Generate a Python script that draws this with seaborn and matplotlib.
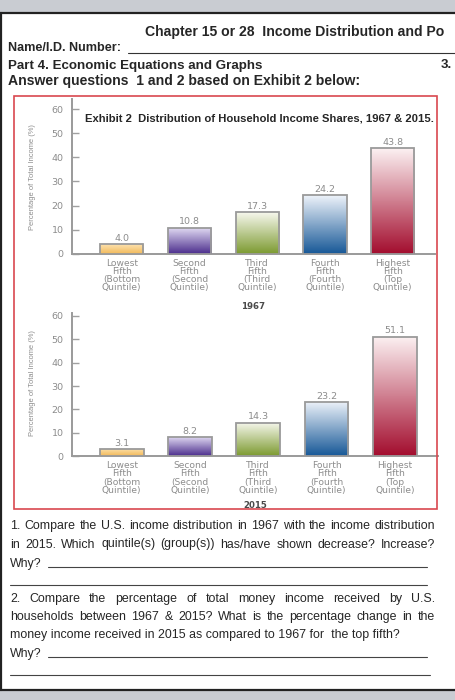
import numpy as np
import pandas as pd
import matplotlib
matplotlib.use("Agg")
from matplotlib import pyplot as plt
from matplotlib.colors import LinearSegmentedColormap
import seaborn as sns

# data ~~~~~~~~~~~~~~~~~~~~~~~~~~~~~~~~~~~~~~~~~~~~~~~~~~~~~~~~~~~~~~~~~~
quintiles = ["Lowest\nFifth\n(Bottom\nQuintile)",
             "Second\nFifth\n(Second\nQuintile)",
             "Third\nFifth\n(Third\nQuintile)",
             "Fourth\nFifth\n(Fourth\nQuintile)",
             "Highest\nFifth\n(Top\nQuintile)"]
share_1967 = [4.0, 10.8, 17.3, 24.2, 43.8]
share_2015 = [3.1, 8.2, 14.3, 23.2, 51.1]
y_ticks = [0, 10, 20, 30, 40, 50, 60]
# (top colour, bottom colour) of each bar gradient
bar_grad = [("#fde3b0", "#f2b95a"),
            ("#e4def5", "#4b2d8c"),
            ("#f7f8ee", "#7c9a30"),
            ("#eef3fa", "#175897"),
            ("#fcf1f2", "#a30d2e")]

W, H = 456, 700
SANS = ["Liberation Sans", "DejaVu Sans"]
GREY = "#8c8c8c"

sns.set_theme(style="white")
plt.rcParams["font.family"] = ["DejaVu Sans"]

fig = plt.figure(figsize=(W / 100, H / 100), dpi=100)
fig.patch.set_facecolor("white")


def fx(x):
    return x / W


def fy(y):
    return 1 - y / H


def hline(x0, x1, y, color="#555555", lw=0.8):
    fig.add_artist(plt.Line2D([fx(x0), fx(x1)], [fy(y), fy(y)], color=color, lw=lw))


# page frame ~~~~~~~~~~~~~~~~~~~~~~~~~~~~~~~~~~~~~~~~~~~~~~~~~~~~~~~~~~~~
fig.add_artist(plt.Rectangle((0, fy(12)), 1, 12 / H, color="#c9ccd2", lw=0))
fig.add_artist(plt.Rectangle((0, 0), 1, 10 / H, color="#c9ccd2", lw=0))
hline(0, W, 12.5, color="#222222", lw=1.6)
hline(0, W, 690, color="#222222", lw=1.6)
fig.add_artist(plt.Line2D([fx(1.5), fx(1.5)], [fy(12.5), fy(690)], color="#222222", lw=1.6))
fig.add_artist(plt.Rectangle((fx(14), fy(509)), fx(437) - fx(14), (509 - 96) / H,
                             fill=False, ec="#d9484f", lw=1.2))

# header text
fig.text(fx(145), fy(36), "Chapter 15 or 28  Income Distribution and Po",
         family=SANS, weight="bold", fontsize=10.1, va="baseline")
fig.text(fx(8), fy(51), "Name/I.D. Number:", family=SANS, weight="bold",
         fontsize=9.1, va="baseline")
hline(128, W, 53, color="#333333", lw=0.8)
fig.text(fx(8), fy(68.5), "Part 4. Economic Equations and Graphs", family=SANS,
         weight="bold", fontsize=9.6, va="baseline")
fig.text(fx(441), fy(68.5), "3.", family=SANS, weight="bold", fontsize=9.6, va="baseline")
fig.text(fx(8), fy(84.5), "Answer questions  1 and 2 based on Exhibit 2 below:",
         family=SANS, weight="bold", fontsize=10.1, va="baseline")


def gradient_bars(ax):
    for patch, (c_top, c_bot) in zip(ax.patches, bar_grad):
        x0, y0 = patch.get_x(), patch.get_y()
        w, h = patch.get_width(), patch.get_height()
        cmap = LinearSegmentedColormap.from_list("g", [c_bot, c_top])
        grad = np.linspace(0, 1, 128).reshape(-1, 1)
        im = ax.imshow(grad, cmap=cmap, origin="lower", aspect="auto",
                       extent=(x0, x0 + w, y0, y0 + h), zorder=patch.get_zorder() - 0.1)
        im.set_clip_path(patch)
        patch.set_facecolor("none")


def income_chart(rect, values, xlim, ylim, year):
    ax = fig.add_axes(rect)
    df = pd.DataFrame({"quintile": quintiles, "share": values})
    sns.barplot(data=df, x="quintile", y="share", ax=ax, width=0.64,
                color="white", edgecolor="#9a9a9a", linewidth=1.3, zorder=3)
    gradient_bars(ax)
    ax.set_xlim(*xlim)
    ax.set_ylim(*ylim)
    ax.set_yticks(y_ticks)
    ax.tick_params(axis="y", direction="in", length=5, width=1, color="#a0a0a0",
                   pad=6, labelsize=6.8, labelcolor=GREY, left=True)
    ax.tick_params(axis="x", length=0, pad=3.5, labelsize=6.6, labelcolor=GREY)
    for lab in ax.get_xticklabels():
        lab.set_linespacing(0.9)
    for side in ["top", "right"]:
        ax.spines[side].set_visible(False)
    for side in ["left", "bottom"]:
        ax.spines[side].set_color("#9a9a9a")
        ax.spines[side].set_linewidth(1.4)
    ax.set_facecolor("none")
    ax.bar_label(ax.containers[0], fmt="%.1f", padding=1, fontsize=6.8, color=GREY)
    ax.set_xlabel(year, fontsize=6.2, weight="bold", color="#4a4a4a")
    ax.xaxis.set_label_coords(0.5, -0.31)
    ax.set_ylabel("")
    return ax


ax1 = income_chart([fx(72), fy(253.7), fx(435) - fx(72), (253.7 - 99) / H],
                   share_1967, (-0.734, 4.624), (0, 64.2), "1967")
ax2 = income_chart([fx(72), fy(456.3), fx(438) - fx(72), (456.3 - 313) / H],
                   share_2015, (-0.728, 4.631), (0, 61.2), "2015")

for yc in [177, 383]:
    fig.text(fx(33), fy(yc), "Percentage of Total Income (%)", family=SANS,
             fontsize=5.4, color=GREY, rotation=90, ha="center", va="center")

fig.text(fx(85), fy(121.5), "Exhibit 2  Distribution of Household Income Shares, 1967 & 2015.",
         family=SANS, weight="bold", fontsize=8.1, va="baseline")

# questions (justified lines) ~~~~~~~~~~~~~~~~~~~~~~~~~~~~~~~~~~~~~~~~~~~~~~
q_lines = [
    ("1. Compare the U.S. income distribution in 1967 with the income distribution", 529, True),
    ("in 2015. Which quintile(s) (group(s)) has/have shown decrease? Increase?", 547.5, True),
    ("Why?", 566.5, False),
    ("2. Compare the percentage of total money income received by U.S.", 602, True),
    ("households between 1967 & 2015? What is the percentage change in the", 620, True),
    ("money income received in 2015 as compared to 1967 for  the top fifth?", 638, False),
    ("Why?", 657, False),
]
Q_SIZE = 8.9
renderer = fig.canvas.get_renderer()
for text, yb, justify in q_lines:
    if not justify:
        fig.text(fx(10), fy(yb), text, family=SANS, fontsize=Q_SIZE, va="baseline")
        continue
    words = text.split()
    arts = [fig.text(0, fy(yb), w, family=SANS, fontsize=Q_SIZE, va="baseline") for w in words]
    widths = [a.get_window_extent(renderer=renderer).width for a in arts]
    gap = (435 - 10 - sum(widths)) / (len(words) - 1)
    x = 10
    for a, w in zip(arts, widths):
        a.set_x(fx(x))
        x += w + gap

hline(48, 427, 567, color="#444444", lw=0.8)
hline(10, 427, 585, color="#444444", lw=0.8)
hline(48, 427, 657, color="#444444", lw=0.8)
hline(10, 430, 675, color="#444444", lw=0.8)

fig.savefig("out.png", dpi=100)
